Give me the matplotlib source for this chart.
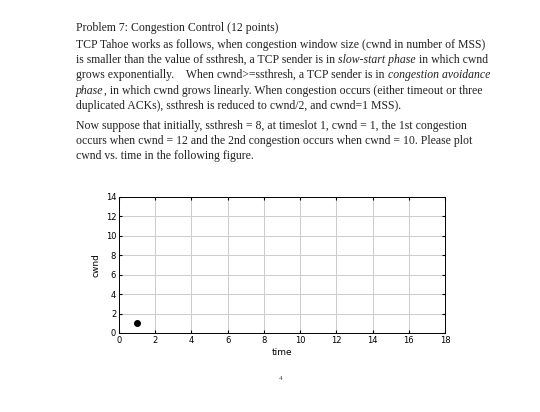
import matplotlib
matplotlib.use("Agg")
import matplotlib.pyplot as plt

times = [1]
cwnd = [1]
xticks = list(range(0, 19, 2))
yticks = list(range(0, 15, 2))

title_line = "Problem 7: Congestion Control (12 points)"
para1 = [
    [("TCP Tahoe works as follows, when congestion window size (cwnd in number of MSS)", "normal")],
    [("is smaller than the value of ssthresh, a TCP sender is in ", "normal"), ("slow-start phase", "italic"), (" in which cwnd", "normal")],
    [("grows exponentially.    When cwnd>=ssthresh, a TCP sender is in ", "normal"), ("congestion avoidance", "italic")],
    [("phase", "italic"), (", in which cwnd grows linearly. When congestion occurs (either timeout or three", "normal")],
    [("duplicated ACKs), ssthresh is reduced to cwnd/2, and cwnd=1 MSS).", "normal")],
]
para2 = [
    "Now suppose that initially, ssthresh = 8, at timeslot 1, cwnd = 1, the 1st congestion",
    "occurs when cwnd = 12 and the 2nd congestion occurs when cwnd = 10. Please plot",
    "cwnd vs. time in the following figure.",
]

W, H = 540, 412
fig = plt.figure(figsize=(5.4, 4.12), dpi=100)
fig.patch.set_facecolor("white")
renderer = fig.canvas.get_renderer()
fs = 8.45
fam = "Liberation Serif"
color = "#222222"

def put_line(segs, ypx, x0=76):
    x = x0
    for s, style in segs:
        t = fig.text(x / W, 1 - ypx / H, s, fontsize=fs, family=fam, style=style,
                     color=color, va="baseline", ha="left")
        bb = t.get_window_extent(renderer=renderer)
        x += bb.width

put_line([(title_line, "normal")], 31)
for i, segs in enumerate(para1):
    put_line(segs, 48 + i * 15.2)
for i, s in enumerate(para2):
    put_line([(s, "normal")], 129 + i * 15.2)

ax = fig.add_axes([119 / W, 1 - 333 / H, (445 - 119) / W, (333 - 197) / H])
ax.plot(times, cwnd, "o", color="black", markersize=4)
ax.set_xlim(0, 18)
ax.set_ylim(0, 14)
ax.set_xticks(xticks)
ax.set_yticks(yticks)
ax.grid(True, color="#cccccc", linewidth=0.7)
ax.tick_params(direction="in", top=True, right=True, labelsize=6, length=2.5, pad=2)
for sp in ax.spines.values():
    sp.set_linewidth(0.7)
ax.set_xlabel("time", fontsize=6.5, labelpad=2)
ax.set_ylabel("cwnd", fontsize=6.5, labelpad=4)

fig.text(281 / W, 1 - 380 / H, "4", fontsize=5, family=fam, ha="center", va="baseline", color="#444444")

fig.savefig("out.png", dpi=100)
